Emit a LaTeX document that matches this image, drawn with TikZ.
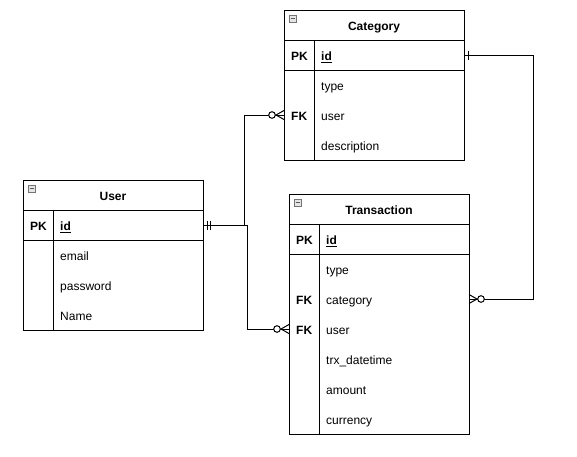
\documentclass[tikz,border=0pt]{standalone}
\usepackage{fontspec}
\setmainfont{Liberation Sans}
\usetikzlibrary{calc}
\begin{document}
\begin{tikzpicture}[x=1pt,y=-1pt,
  box/.style={draw=black,line width=1pt,minimum width=180pt,inner sep=0pt,outer sep=0pt,anchor=north west},
  row/.style={minimum width=180pt,minimum height=30pt,inner sep=0pt,outer sep=0pt,anchor=north west},
  hdrt/.style={anchor=base,inner sep=0pt,font=\fontsize{12}{14}\selectfont\bfseries},
  key/.style={anchor=base west,inner sep=0pt,font=\fontsize{12}{14}\selectfont\bfseries},
  fld/.style={anchor=base west,inner sep=0pt,font=\fontsize{12}{14}\selectfont},
  icon/.style={draw=gray!90!black,fill=gray!20,line width=0.6pt,minimum size=7pt,inner sep=0pt,outer sep=0pt,anchor=north west},
  conn/.style={line width=1pt,draw=black},
]
\useasboundingbox (0,0) rectangle (577,456);

% ---------------- Category ----------------
\node[box,minimum height=30pt] (cathead) at (284,10) {};
\node[hdrt] (catheadt) at ($(cathead.center)+(0,5.2)$) {Category};
\node[icon] (caticon) at ($(cathead.north west)+(5,5)$) {};
\draw[line width=0.8pt,draw=gray!70!black] ($(caticon.west)+(1.5,0)$) -- ($(caticon.east)+(-1.5,0)$);
\node[box,minimum height=30pt] (catid) at (284,40) {};
\node[box,minimum height=90pt] (catbody) at (284,70) {};
\draw[conn] ($(catid.north west)+(30,0)$) -- ($(catbody.south west)+(30,0)$);
\node[row] (cattype) at (284,70) {};
\node[row] (catuser) at (284,100) {};
\node[row] (catdesc) at (284,130) {};
\node[key] (catpk) at ($(catid.west)+(7,5.2)$) {PK};
\node[key] (catidt) at ($(catid.west)+(37,5.2)$) {\underline{id}};
\node[fld] (cattypet) at ($(cattype.west)+(37,5.2)$) {type};
\node[key] (catfk) at ($(catuser.west)+(7,5.2)$) {FK};
\node[fld] (catusert) at ($(catuser.west)+(37,5.2)$) {user};
\node[fld] (catdesct) at ($(catdesc.west)+(37,5.2)$) {description};

% ---------------- User ----------------
\node[box,minimum height=30pt] (uhead) at (23,180) {};
\node[hdrt] (uheadt) at ($(uhead.center)+(0,5.2)$) {User};
\node[icon] (uicon) at ($(uhead.north west)+(5,5)$) {};
\draw[line width=0.8pt,draw=gray!70!black] ($(uicon.west)+(1.5,0)$) -- ($(uicon.east)+(-1.5,0)$);
\node[box,minimum height=30pt] (uid) at (23,210) {};
\node[box,minimum height=90pt] (ubody) at (23,240) {};
\draw[conn] ($(uid.north west)+(30,0)$) -- ($(ubody.south west)+(30,0)$);
\node[row] (uemail) at (23,240) {};
\node[row] (upass) at (23,270) {};
\node[row] (uname) at (23,300) {};
\node[key] (upk) at ($(uid.west)+(7,5.2)$) {PK};
\node[key] (uidt) at ($(uid.west)+(37,5.2)$) {\underline{id}};
\node[fld] (uemailt) at ($(uemail.west)+(37,5.2)$) {email};
\node[fld] (upasst) at ($(upass.west)+(37,5.2)$) {password};
\node[fld] (unamet) at ($(uname.west)+(37,5.2)$) {Name};

% ---------------- Transaction ----------------
\node[box,minimum height=30pt] (trhead) at (289,194) {};
\node[hdrt] (trheadt) at ($(trhead.center)+(0,5.2)$) {Transaction};
\node[icon] (tricon) at ($(trhead.north west)+(5,5)$) {};
\draw[line width=0.8pt,draw=gray!70!black] ($(tricon.west)+(1.5,0)$) -- ($(tricon.east)+(-1.5,0)$);
\node[box,minimum height=30pt] (trid) at (289,224) {};
\node[box,minimum height=180pt] (trbody) at (289,254) {};
\draw[conn] ($(trid.north west)+(30,0)$) -- ($(trbody.south west)+(30,0)$);
\node[row] (trtype) at (289,254) {};
\node[row] (trcat) at (289,284) {};
\node[row] (truser) at (289,314) {};
\node[row] (trdt) at (289,344) {};
\node[row] (tramt) at (289,374) {};
\node[row] (trcur) at (289,404) {};
\node[key] (trpk) at ($(trid.west)+(7,5.2)$) {PK};
\node[key] (tridt) at ($(trid.west)+(37,5.2)$) {\underline{id}};
\node[fld] (trtypet) at ($(trtype.west)+(37,5.2)$) {type};
\node[key] (trfk1) at ($(trcat.west)+(7,5.2)$) {FK};
\node[fld] (trcatt) at ($(trcat.west)+(37,5.2)$) {category};
\node[key] (trfk2) at ($(truser.west)+(7,5.2)$) {FK};
\node[fld] (trusert) at ($(truser.west)+(37,5.2)$) {user};
\node[fld] (trdtt) at ($(trdt.west)+(37,5.2)$) {trx\_datetime};
\node[fld] (tramtt) at ($(tramt.west)+(37,5.2)$) {amount};
\node[fld] (trcurt) at ($(trcur.west)+(37,5.2)$) {currency};

% ---------------- Connectors ----------------
% User -> Category
\draw[conn] (uid.east) -- ++(41,0) |- (catuser.west);
% User -> Transaction
\draw[conn] (uid.east) -- ++(44,0) |- (truser.west);
% Category -> Transaction
\draw[conn] (catid.east) -- ++(69,0) |- (trcat.east);

% mandatory one at User
\draw[conn] ($(uid.east)+(4,-4.5)$) -- ++(0,9);
\draw[conn] ($(uid.east)+(7,-4.5)$) -- ++(0,9);
% one at Category id
\draw[conn] ($(catid.east)+(4,-4.5)$) -- ++(0,9);

% zero-or-many at Category user
\draw[conn] ($(catuser.west)+(0,-4.5)$) -- ($(catuser.west)+(-8,0)$) -- ($(catuser.west)+(0,4.5)$);
\draw[conn,fill=white] ($(catuser.west)+(-12,0)$) circle[radius=3.3];
% zero-or-many at Transaction user
\draw[conn] ($(truser.west)+(0,-4.5)$) -- ($(truser.west)+(-8,0)$) -- ($(truser.west)+(0,4.5)$);
\draw[conn,fill=white] ($(truser.west)+(-12,0)$) circle[radius=3.3];
% zero-or-many at Transaction category
\draw[conn] ($(trcat.east)+(0,-4.5)$) -- ($(trcat.east)+(8,0)$) -- ($(trcat.east)+(0,4.5)$);
\draw[conn,fill=white] ($(trcat.east)+(12,0)$) circle[radius=3.3];
\end{tikzpicture}
\end{document}
